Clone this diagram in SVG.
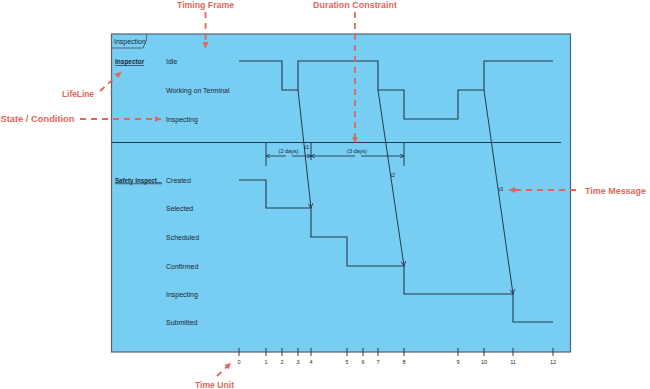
<svg xmlns="http://www.w3.org/2000/svg" width="650" height="389" viewBox="0 0 650 389">
<style>
.frame{fill:#78cdf3;stroke:#56626d;stroke-width:1.2}
.tl{fill:none;stroke:#243a4c;stroke-width:1.1}
.msg{fill:none;stroke:#243a4c;stroke-width:1;marker-end:url(#open)}
.lbl{font-family:"Liberation Sans",Arial,sans-serif;font-size:7px;fill:#1c2935}
.ll{font-family:"Liberation Sans",Arial,sans-serif;font-size:6.5px;font-weight:bold;fill:#1c2935;text-decoration:underline}
.sm{font-family:"Liberation Sans",Arial,sans-serif;font-size:5.5px;fill:#1c2935}
.tick{stroke:#243a4c;stroke-width:1}
.ann{font-family:"Liberation Sans",Arial,sans-serif;font-size:9.5px;font-weight:bold;fill:#e0675b}
.dash{fill:none;stroke:#e0675b;stroke-width:1.8;stroke-dasharray:6 5;marker-end:url(#red)}
.dim{fill:none;stroke:#243a4c;stroke-width:0.9}
</style>
<defs>
<marker id="red" viewBox="0 0 6 6" refX="6" refY="3" markerWidth="6" markerHeight="6" markerUnits="userSpaceOnUse" orient="auto">
<path d="M0,0 L6,3 L0,6 z" fill="#e0675b"/>
</marker>
<marker id="open" viewBox="0 0 8 8" refX="7" refY="4" markerWidth="6" markerHeight="6" markerUnits="userSpaceOnUse" orient="auto">
<path d="M1,1 L7,4 L1,7" fill="none" stroke="#243a4c" stroke-width="1.2"/>
</marker>
<marker id="dimA" viewBox="0 0 6 6" refX="6" refY="3" markerWidth="4" markerHeight="4" markerUnits="userSpaceOnUse" orient="auto-start-reverse">
<path d="M0,0 L6,3 L0,6" fill="none" stroke="#243a4c" stroke-width="1.2"/>
</marker>
</defs>

<g id="frame">
<rect class="frame" x="111.5" y="34" width="459" height="318"/>
<path d="M111.5,48 H143 L146.5,40 V34" fill="none" stroke="#56626d" stroke-width="1"/>
<text class="lbl" x="114" y="43.5" font-size="6.5">Inspection</text>
<line x1="111.5" y1="142.5" x2="561" y2="142.5" stroke="#243a4c" stroke-width="1.1"/>
</g>

<g id="lifeline-inspector">
<text class="ll" x="115" y="64">Inspector</text>
<text class="lbl" x="166" y="63.5">Idle</text>
<text class="lbl" x="166" y="92.5">Working on Terminal</text>
<text class="lbl" x="166" y="121.5">Inspecting</text>
<path class="tl" d="M239,61 H282 V90 H298 V61 H378 V90 H404 V119 H458 V90 H484 V61 H553"/>
</g>

<g id="lifeline-safety">
<text class="ll" x="115" y="182.5" textLength="47" lengthAdjust="spacingAndGlyphs">Safety Inspect...</text>
<text class="lbl" x="166" y="182.5">Created</text>
<text class="lbl" x="166" y="210.5">Selected</text>
<text class="lbl" x="166" y="239.5">Scheduled</text>
<text class="lbl" x="166" y="268.5">Confirmed</text>
<text class="lbl" x="166" y="296.5">Inspecting</text>
<text class="lbl" x="166" y="325">Submitted</text>
<path class="tl" d="M239,180 H266 V208 H311 V237 H347 V266 H404 V294 H513 V322 H553"/>
</g>

<g id="duration-constraints">
<line class="tick" x1="266" y1="142.5" x2="266" y2="166"/>
<line class="tick" x1="311" y1="142.5" x2="311" y2="160"/>
<line class="tick" x1="404" y1="142.5" x2="404" y2="166"/>
<path class="dim" d="M266,156 H286" marker-start="url(#dimA)"/>
<path class="dim" d="M292,156 H311" marker-end="url(#dimA)"/>
<path class="dim" d="M311,156 H355" marker-start="url(#dimA)"/>
<path class="dim" d="M361,156 H404" marker-end="url(#dimA)"/>
<text class="sm" x="288.5" y="152.5" text-anchor="middle">(2 days)</text>
<text class="sm" x="357" y="152.5" text-anchor="middle">(3 days)</text>
</g>

<g id="messages">
<line class="msg" x1="298" y1="90" x2="311" y2="208"/>
<line class="msg" x1="378" y1="90" x2="404" y2="266"/>
<line class="msg" x1="484" y1="90" x2="513" y2="294"/>
<text class="sm" x="304.5" y="149">t1</text>
<text class="sm" x="390.5" y="177">t2</text>
<text class="sm" x="498.5" y="191">t3</text>
</g>

<g id="time-axis">
<g class="tick">
<line x1="239" y1="348" x2="239" y2="356"/>
<line x1="266" y1="348" x2="266" y2="356"/>
<line x1="282" y1="348" x2="282" y2="356"/>
<line x1="298" y1="348" x2="298" y2="356"/>
<line x1="311" y1="348" x2="311" y2="356"/>
<line x1="347" y1="348" x2="347" y2="356"/>
<line x1="363" y1="348" x2="363" y2="356"/>
<line x1="378" y1="348" x2="378" y2="356"/>
<line x1="404" y1="348" x2="404" y2="356"/>
<line x1="458" y1="348" x2="458" y2="356"/>
<line x1="484" y1="348" x2="484" y2="356"/>
<line x1="513" y1="348" x2="513" y2="356"/>
<line x1="553" y1="348" x2="553" y2="356"/>
</g>
<g class="sm" text-anchor="middle">
<text x="239" y="364">0</text>
<text x="266" y="364">1</text>
<text x="282" y="364">2</text>
<text x="298" y="364">3</text>
<text x="311" y="364">4</text>
<text x="347" y="364">5</text>
<text x="363" y="364">6</text>
<text x="378" y="364">7</text>
<text x="404" y="364">8</text>
<text x="458" y="364">9</text>
<text x="484" y="364">10</text>
<text x="513" y="364">11</text>
<text x="553" y="364">12</text>
</g>
</g>

<g id="annotations">
<text class="ann" x="177" y="8" textLength="57" lengthAdjust="spacingAndGlyphs">Timing Frame</text>
<line class="dash" x1="205.5" y1="12" x2="205.5" y2="48"/>
<text class="ann" x="313" y="8" textLength="84" lengthAdjust="spacingAndGlyphs">Duration Constraint</text>
<line class="dash" x1="355" y1="12" x2="355" y2="143"/>
<text class="ann" x="62" y="97" textLength="32" lengthAdjust="spacingAndGlyphs">LifeLine</text>
<line class="dash" x1="100" y1="91" x2="121" y2="72"/>
<text class="ann" x="0.5" y="122" textLength="74" lengthAdjust="spacingAndGlyphs">State / Condition</text>
<line class="dash" x1="80" y1="119" x2="161" y2="119"/>
<text class="ann" x="585" y="194" textLength="61" lengthAdjust="spacingAndGlyphs">Time Message</text>
<line class="dash" x1="576" y1="190" x2="509" y2="190"/>
<text class="ann" x="195" y="388" textLength="39" lengthAdjust="spacingAndGlyphs">Time Unit</text>
<line class="dash" x1="217" y1="376" x2="231" y2="363"/>
</g>
</svg>
